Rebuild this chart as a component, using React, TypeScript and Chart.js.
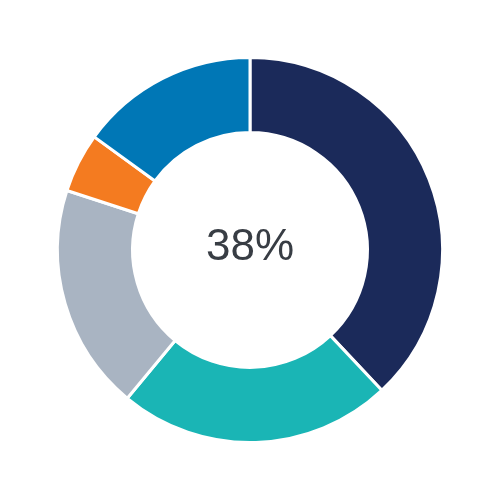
import { useEffect, useRef } from 'react';
import Chart from 'chart.js/auto';

const labels = ['Segment A', 'Segment B', 'Segment C', 'Segment D', 'Segment E'];
const values = [38, 23, 19, 5, 15];
const colors = ['#1b2a5a', '#1ab5b5', '#a9b4c2', '#f47b20', '#0077b6'];
const centerLabel = '38%';

const centerText = {
  id: 'centerText',
  afterDraw(chart: Chart) {
    const { ctx, chartArea } = chart;
    const x = (chartArea.left + chartArea.right) / 2;
    const y = (chartArea.top + chartArea.bottom) / 2;
    ctx.save();
    ctx.font = '44px "Liberation Sans", Arial, sans-serif';
    ctx.fillStyle = '#383d44';
    ctx.textAlign = 'center';
    ctx.textBaseline = 'middle';
    ctx.fillText(centerLabel, x, y - 2);
    ctx.restore();
  },
};

const App = () => {
  const chartRef = useRef<HTMLCanvasElement>(null);
  const chartInstance = useRef<Chart | null>(null);

  useEffect(() => {
    if (!chartRef.current) return;
    if (chartInstance.current) chartInstance.current.destroy();

    chartInstance.current = new Chart(chartRef.current, {
      type: 'doughnut',
      data: {
        labels,
        datasets: [{
          data: values,
          backgroundColor: colors,
          borderColor: '#ffffff',
          borderWidth: 3,
        }],
      },
      options: {
        responsive: true,
        maintainAspectRatio: false,
        animation: false,
        cutout: '61%',
        layout: { padding: 56 },
        plugins: {
          legend: { display: false },
          tooltip: { enabled: false },
        },
      },
      plugins: [centerText],
    });

    return () => {
      if (chartInstance.current) {
        chartInstance.current.destroy();
        chartInstance.current = null;
      }
    };
  }, []);

  return (
    <div style={{ position: 'absolute', left: 0, top: 0, width: 500, height: 500, background: '#fff' }}>
      <canvas ref={chartRef} />
    </div>
  );
};

export default App;
